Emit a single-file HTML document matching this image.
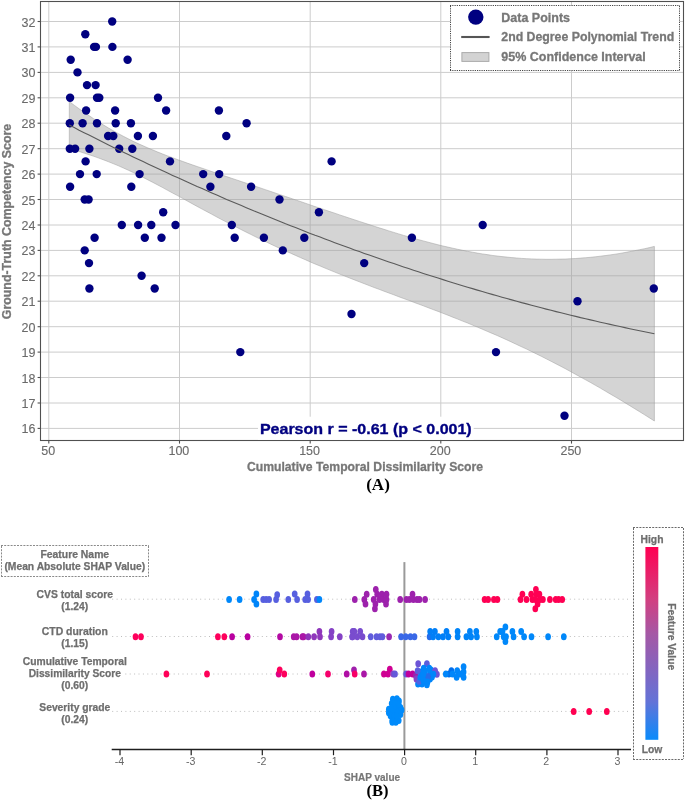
<!DOCTYPE html>
<html><head><meta charset="utf-8"><style>
html,body{margin:0;padding:0;background:#fff;}
body{width:685px;height:801px;overflow:hidden;}
svg{display:block;}
text{font-family:"Liberation Sans",Arial,sans-serif;}
.serif{font-family:"Liberation Serif","Times New Roman",serif;font-weight:bold;fill:#000;}
</style></head><body>
<svg width="685" height="801" viewBox="0 0 685 801">
<defs><linearGradient id="cb" x1="0" y1="0" x2="0" y2="1"><stop offset="0" stop-color="#ff0052"/><stop offset="0.27" stop-color="#d23f80"/><stop offset="0.45" stop-color="#a558a5"/><stop offset="0.65" stop-color="#8066c2"/><stop offset="0.8" stop-color="#6473d7"/><stop offset="1" stop-color="#0a8bfb"/></linearGradient></defs>
<g stroke="#cccccc" stroke-width="1"><line x1="48.8" y1="1.5" x2="48.8" y2="440.5"/><line x1="179.5" y1="1.5" x2="179.5" y2="440.5"/><line x1="310.2" y1="1.5" x2="310.2" y2="440.5"/><line x1="440.8" y1="1.5" x2="440.8" y2="440.5"/><line x1="571.5" y1="1.5" x2="571.5" y2="440.5"/><line x1="40.5" y1="428.4" x2="683.5" y2="428.4"/><line x1="40.5" y1="403.0" x2="683.5" y2="403.0"/><line x1="40.5" y1="377.5" x2="683.5" y2="377.5"/><line x1="40.5" y1="352.1" x2="683.5" y2="352.1"/><line x1="40.5" y1="326.7" x2="683.5" y2="326.7"/><line x1="40.5" y1="301.2" x2="683.5" y2="301.2"/><line x1="40.5" y1="275.8" x2="683.5" y2="275.8"/><line x1="40.5" y1="250.4" x2="683.5" y2="250.4"/><line x1="40.5" y1="225.0" x2="683.5" y2="225.0"/><line x1="40.5" y1="199.5" x2="683.5" y2="199.5"/><line x1="40.5" y1="174.1" x2="683.5" y2="174.1"/><line x1="40.5" y1="148.7" x2="683.5" y2="148.7"/><line x1="40.5" y1="123.2" x2="683.5" y2="123.2"/><line x1="40.5" y1="97.8" x2="683.5" y2="97.8"/><line x1="40.5" y1="72.4" x2="683.5" y2="72.4"/><line x1="40.5" y1="46.9" x2="683.5" y2="46.9"/><line x1="40.5" y1="21.5" x2="683.5" y2="21.5"/></g>
<path d="M69.3,101.6 L74.2,105.2 L79.1,108.8 L84.1,112.2 L89.0,115.6 L93.9,118.9 L98.8,122.1 L103.7,125.1 L108.6,128.1 L113.6,130.9 L118.5,133.7 L123.4,136.3 L128.3,138.8 L133.2,141.3 L138.1,143.6 L143.1,145.8 L148.0,148.0 L152.9,150.0 L157.8,152.1 L162.7,154.0 L167.6,155.9 L172.6,157.7 L177.5,159.6 L182.4,161.3 L187.3,163.1 L192.2,164.8 L197.1,166.5 L202.1,168.2 L207.0,169.9 L211.9,171.6 L216.8,173.3 L221.7,174.9 L226.6,176.6 L231.6,178.3 L236.5,179.9 L241.4,181.6 L246.3,183.2 L251.2,184.9 L256.1,186.5 L261.1,188.2 L266.0,189.9 L270.9,191.5 L275.8,193.2 L280.7,194.9 L285.6,196.5 L290.6,198.2 L295.5,199.9 L300.4,201.5 L305.3,203.2 L310.2,204.9 L315.1,206.6 L320.1,208.2 L325.0,209.9 L329.9,211.6 L334.8,213.2 L339.7,214.9 L344.6,216.5 L349.6,218.2 L354.5,219.8 L359.4,221.4 L364.3,223.0 L369.2,224.6 L374.1,226.2 L379.1,227.8 L384.0,229.3 L388.9,230.9 L393.8,232.4 L398.7,233.9 L403.6,235.4 L408.6,236.8 L413.5,238.2 L418.4,239.6 L423.3,240.9 L428.2,242.2 L433.1,243.5 L438.1,244.8 L443.0,246.0 L447.9,247.1 L452.8,248.2 L457.7,249.3 L462.6,250.3 L467.6,251.3 L472.5,252.2 L477.4,253.1 L482.3,253.9 L487.2,254.6 L492.1,255.4 L497.1,256.0 L502.0,256.6 L506.9,257.1 L511.8,257.6 L516.7,258.0 L521.6,258.4 L526.6,258.7 L531.5,258.9 L536.4,259.1 L541.3,259.2 L546.2,259.3 L551.1,259.3 L556.1,259.2 L561.0,259.1 L565.9,259.0 L570.8,258.7 L575.7,258.5 L580.6,258.1 L585.6,257.7 L590.5,257.3 L595.4,256.8 L600.3,256.2 L605.2,255.6 L610.1,254.9 L615.1,254.2 L620.0,253.4 L624.9,252.5 L629.8,251.6 L634.7,250.7 L639.6,249.7 L644.6,248.7 L649.5,247.6 L654.4,246.4 L654.4,421.0 L649.5,417.9 L644.6,414.8 L639.6,411.7 L634.7,408.7 L629.8,405.7 L624.9,402.7 L620.0,399.7 L615.1,396.8 L610.1,393.9 L605.2,391.0 L600.3,388.1 L595.4,385.3 L590.5,382.5 L585.6,379.8 L580.6,377.1 L575.7,374.4 L570.8,371.7 L565.9,369.0 L561.0,366.4 L556.1,363.9 L551.1,361.3 L546.2,358.8 L541.3,356.3 L536.4,353.9 L531.5,351.5 L526.6,349.1 L521.6,346.8 L516.7,344.5 L511.8,342.2 L506.9,339.9 L502.0,337.7 L497.1,335.5 L492.1,333.4 L487.2,331.3 L482.3,329.2 L477.4,327.1 L472.5,325.1 L467.6,323.0 L462.6,321.1 L457.7,319.1 L452.8,317.2 L447.9,315.2 L443.0,313.3 L438.1,311.4 L433.1,309.6 L428.2,307.7 L423.3,305.8 L418.4,304.0 L413.5,302.2 L408.6,300.3 L403.6,298.5 L398.7,296.7 L393.8,294.8 L388.9,293.0 L384.0,291.2 L379.1,289.3 L374.1,287.5 L369.2,285.6 L364.3,283.7 L359.4,281.8 L354.5,279.9 L349.6,278.0 L344.6,276.0 L339.7,274.1 L334.8,272.1 L329.9,270.1 L325.0,268.1 L320.1,266.0 L315.1,264.0 L310.2,261.9 L305.3,259.7 L300.4,257.6 L295.5,255.4 L290.6,253.2 L285.6,251.0 L280.7,248.8 L275.8,246.5 L270.9,244.2 L266.0,241.8 L261.1,239.5 L256.1,237.1 L251.2,234.6 L246.3,232.2 L241.4,229.7 L236.5,227.2 L231.6,224.7 L226.6,222.1 L221.7,219.6 L216.8,217.0 L211.9,214.3 L207.0,211.7 L202.1,209.1 L197.1,206.4 L192.2,203.7 L187.3,201.0 L182.4,198.3 L177.5,195.6 L172.6,193.0 L167.6,190.3 L162.7,187.6 L157.8,185.0 L152.9,182.4 L148.0,179.9 L143.1,177.4 L138.1,174.9 L133.2,172.5 L128.3,170.2 L123.4,168.0 L118.5,165.8 L113.6,163.8 L108.6,161.8 L103.7,159.9 L98.8,158.1 L93.9,156.3 L89.0,154.7 L84.1,153.1 L79.1,151.5 L74.2,150.1 L69.3,148.7 Z" fill="#a0a0a0" fill-opacity="0.45" stroke="#999" stroke-opacity="0.8" stroke-width="0.6"/>
<g fill="#000080"><circle cx="112.2" cy="21.5" r="4.2"/><circle cx="85.3" cy="34.2" r="4.2"/><circle cx="94.1" cy="46.9" r="4.2"/><circle cx="95.9" cy="46.9" r="4.2"/><circle cx="112.4" cy="46.9" r="4.2"/><circle cx="70.7" cy="59.7" r="4.2"/><circle cx="77.5" cy="72.4" r="4.2"/><circle cx="87.0" cy="85.1" r="4.2"/><circle cx="95.6" cy="85.1" r="4.2"/><circle cx="127.6" cy="59.7" r="4.2"/><circle cx="70.1" cy="97.8" r="4.2"/><circle cx="97.0" cy="97.8" r="4.2"/><circle cx="99.3" cy="97.8" r="4.2"/><circle cx="86.1" cy="110.5" r="4.2"/><circle cx="115.1" cy="110.5" r="4.2"/><circle cx="69.8" cy="123.2" r="4.2"/><circle cx="82.6" cy="123.2" r="4.2"/><circle cx="97.0" cy="123.2" r="4.2"/><circle cx="115.7" cy="123.2" r="4.2"/><circle cx="108.1" cy="136.0" r="4.2"/><circle cx="113.3" cy="136.0" r="4.2"/><circle cx="69.8" cy="148.7" r="4.2"/><circle cx="75.1" cy="148.7" r="4.2"/><circle cx="89.4" cy="148.7" r="4.2"/><circle cx="119.2" cy="148.7" r="4.2"/><circle cx="85.6" cy="161.4" r="4.2"/><circle cx="80.0" cy="174.1" r="4.2"/><circle cx="96.7" cy="174.1" r="4.2"/><circle cx="70.1" cy="186.8" r="4.2"/><circle cx="84.7" cy="199.5" r="4.2"/><circle cx="88.6" cy="199.5" r="4.2"/><circle cx="121.8" cy="225.0" r="4.2"/><circle cx="94.6" cy="237.7" r="4.2"/><circle cx="84.7" cy="250.4" r="4.2"/><circle cx="89.0" cy="263.1" r="4.2"/><circle cx="89.4" cy="288.5" r="4.2"/><circle cx="158.0" cy="97.8" r="4.2"/><circle cx="166.1" cy="110.5" r="4.2"/><circle cx="130.9" cy="123.2" r="4.2"/><circle cx="137.9" cy="136.0" r="4.2"/><circle cx="152.9" cy="136.0" r="4.2"/><circle cx="132.3" cy="148.7" r="4.2"/><circle cx="170.0" cy="161.4" r="4.2"/><circle cx="139.6" cy="174.1" r="4.2"/><circle cx="131.3" cy="186.8" r="4.2"/><circle cx="163.2" cy="212.2" r="4.2"/><circle cx="138.1" cy="225.0" r="4.2"/><circle cx="151.3" cy="225.0" r="4.2"/><circle cx="175.5" cy="225.0" r="4.2"/><circle cx="144.8" cy="237.7" r="4.2"/><circle cx="161.5" cy="237.7" r="4.2"/><circle cx="141.6" cy="275.8" r="4.2"/><circle cx="154.7" cy="288.5" r="4.2"/><circle cx="218.9" cy="110.5" r="4.2"/><circle cx="246.6" cy="123.2" r="4.2"/><circle cx="226.3" cy="136.0" r="4.2"/><circle cx="203.2" cy="174.1" r="4.2"/><circle cx="219.2" cy="174.1" r="4.2"/><circle cx="210.4" cy="186.8" r="4.2"/><circle cx="251.1" cy="186.8" r="4.2"/><circle cx="231.8" cy="225.0" r="4.2"/><circle cx="234.7" cy="237.7" r="4.2"/><circle cx="263.9" cy="237.7" r="4.2"/><circle cx="240.3" cy="352.1" r="4.2"/><circle cx="331.6" cy="161.4" r="4.2"/><circle cx="279.5" cy="199.5" r="4.2"/><circle cx="318.9" cy="212.2" r="4.2"/><circle cx="304.3" cy="237.7" r="4.2"/><circle cx="282.8" cy="250.4" r="4.2"/><circle cx="364.2" cy="263.1" r="4.2"/><circle cx="351.5" cy="314.0" r="4.2"/><circle cx="411.9" cy="237.7" r="4.2"/><circle cx="482.7" cy="225.0" r="4.2"/><circle cx="577.5" cy="301.2" r="4.2"/><circle cx="496.0" cy="352.1" r="4.2"/><circle cx="653.8" cy="288.5" r="4.2"/><circle cx="564.5" cy="415.7" r="4.2"/></g>
<path d="M69.3,125.1 L74.2,127.6 L79.1,130.2 L84.1,132.7 L89.0,135.1 L93.9,137.6 L98.8,140.1 L103.7,142.5 L108.6,144.9 L113.6,147.4 L118.5,149.8 L123.4,152.2 L128.3,154.5 L133.2,156.9 L138.1,159.2 L143.1,161.6 L148.0,163.9 L152.9,166.2 L157.8,168.5 L162.7,170.8 L167.6,173.1 L172.6,175.4 L177.5,177.6 L182.4,179.8 L187.3,182.1 L192.2,184.3 L197.1,186.5 L202.1,188.6 L207.0,190.8 L211.9,193.0 L216.8,195.1 L221.7,197.2 L226.6,199.4 L231.6,201.5 L236.5,203.6 L241.4,205.6 L246.3,207.7 L251.2,209.8 L256.1,211.8 L261.1,213.8 L266.0,215.8 L270.9,217.8 L275.8,219.8 L280.7,221.8 L285.6,223.8 L290.6,225.7 L295.5,227.6 L300.4,229.6 L305.3,231.5 L310.2,233.4 L315.1,235.3 L320.1,237.1 L325.0,239.0 L329.9,240.8 L334.8,242.7 L339.7,244.5 L344.6,246.3 L349.6,248.1 L354.5,249.9 L359.4,251.6 L364.3,253.4 L369.2,255.1 L374.1,256.8 L379.1,258.6 L384.0,260.3 L388.9,261.9 L393.8,263.6 L398.7,265.3 L403.6,266.9 L408.6,268.6 L413.5,270.2 L418.4,271.8 L423.3,273.4 L428.2,275.0 L433.1,276.5 L438.1,278.1 L443.0,279.6 L447.9,281.2 L452.8,282.7 L457.7,284.2 L462.6,285.7 L467.6,287.2 L472.5,288.6 L477.4,290.1 L482.3,291.5 L487.2,293.0 L492.1,294.4 L497.1,295.8 L502.0,297.2 L506.9,298.5 L511.8,299.9 L516.7,301.2 L521.6,302.6 L526.6,303.9 L531.5,305.2 L536.4,306.5 L541.3,307.8 L546.2,309.1 L551.1,310.3 L556.1,311.6 L561.0,312.8 L565.9,314.0 L570.8,315.2 L575.7,316.4 L580.6,317.6 L585.6,318.7 L590.5,319.9 L595.4,321.0 L600.3,322.2 L605.2,323.3 L610.1,324.4 L615.1,325.5 L620.0,326.5 L624.9,327.6 L629.8,328.7 L634.7,329.7 L639.6,330.7 L644.6,331.7 L649.5,332.7 L654.4,333.7" fill="none" stroke="#5a5a5a" stroke-width="1.1"/>
<rect x="40.5" y="1.5" width="643.0" height="439.0" fill="none" stroke="#505050" stroke-width="1.1"/>
<g stroke="#505050" stroke-width="1.1"><line x1="37.6" y1="428.4" x2="40.5" y2="428.4"/><line x1="37.6" y1="403.0" x2="40.5" y2="403.0"/><line x1="37.6" y1="377.5" x2="40.5" y2="377.5"/><line x1="37.6" y1="352.1" x2="40.5" y2="352.1"/><line x1="37.6" y1="326.7" x2="40.5" y2="326.7"/><line x1="37.6" y1="301.2" x2="40.5" y2="301.2"/><line x1="37.6" y1="275.8" x2="40.5" y2="275.8"/><line x1="37.6" y1="250.4" x2="40.5" y2="250.4"/><line x1="37.6" y1="225.0" x2="40.5" y2="225.0"/><line x1="37.6" y1="199.5" x2="40.5" y2="199.5"/><line x1="37.6" y1="174.1" x2="40.5" y2="174.1"/><line x1="37.6" y1="148.7" x2="40.5" y2="148.7"/><line x1="37.6" y1="123.2" x2="40.5" y2="123.2"/><line x1="37.6" y1="97.8" x2="40.5" y2="97.8"/><line x1="37.6" y1="72.4" x2="40.5" y2="72.4"/><line x1="37.6" y1="46.9" x2="40.5" y2="46.9"/><line x1="37.6" y1="21.5" x2="40.5" y2="21.5"/><line x1="48.8" y1="440.5" x2="48.8" y2="443.6"/><line x1="179.5" y1="440.5" x2="179.5" y2="443.6"/><line x1="310.2" y1="440.5" x2="310.2" y2="443.6"/><line x1="440.8" y1="440.5" x2="440.8" y2="443.6"/><line x1="571.5" y1="440.5" x2="571.5" y2="443.6"/></g>
<g font-size="12.5" fill="#6a6a6a" stroke="#6a6a6a" stroke-width="0.12"><text x="35.4" y="433.4" text-anchor="end">16</text><text x="35.4" y="408.0" text-anchor="end">17</text><text x="35.4" y="382.5" text-anchor="end">18</text><text x="35.4" y="357.1" text-anchor="end">19</text><text x="35.4" y="331.7" text-anchor="end">20</text><text x="35.4" y="306.2" text-anchor="end">21</text><text x="35.4" y="280.8" text-anchor="end">22</text><text x="35.4" y="255.4" text-anchor="end">23</text><text x="35.4" y="230.0" text-anchor="end">24</text><text x="35.4" y="204.5" text-anchor="end">25</text><text x="35.4" y="179.1" text-anchor="end">26</text><text x="35.4" y="153.7" text-anchor="end">27</text><text x="35.4" y="128.2" text-anchor="end">28</text><text x="35.4" y="102.8" text-anchor="end">29</text><text x="35.4" y="77.4" text-anchor="end">30</text><text x="35.4" y="51.9" text-anchor="end">31</text><text x="35.4" y="26.5" text-anchor="end">32</text><text x="48.2" y="455.2" text-anchor="middle">50</text><text x="178.9" y="455.2" text-anchor="middle">100</text><text x="309.6" y="455.2" text-anchor="middle">150</text><text x="440.2" y="455.2" text-anchor="middle">200</text><text x="570.9" y="455.2" text-anchor="middle">250</text></g>
<text x="365" y="470.8" text-anchor="middle" font-size="12.2" font-weight="bold" fill="#777" stroke="#777" stroke-width="0.3">Cumulative Temporal Dissimilarity Score</text>
<text transform="translate(11.3,221.5) rotate(-90)" text-anchor="middle" font-size="12.4" font-weight="bold" fill="#777" stroke="#777" stroke-width="0.3">Ground-Truth Competency Score</text>
<text class="serif" x="378" y="490.4" text-anchor="middle" font-size="17">(A)</text>
<rect x="258" y="416.7" width="215.7" height="23" fill="#fff"/>
<text x="365.8" y="433.7" text-anchor="middle" font-size="15.2" font-weight="bold" fill="#000080" stroke="#000080" stroke-width="0.35" textLength="211.8" lengthAdjust="spacingAndGlyphs">Pearson r = -0.61 (p &lt; 0.001)</text>
<rect x="450.5" y="5.5" width="229.0" height="65.0" fill="#fff"/><g stroke="#444" stroke-width="1" stroke-dasharray="1.2 1.05" fill="none"><line x1="450.0" y1="5.5" x2="680.0" y2="5.5"/><line x1="450.0" y1="70.5" x2="680.0" y2="70.5"/><line x1="450.5" y1="6.0" x2="450.5" y2="70.0"/><line x1="679.5" y1="6.0" x2="679.5" y2="70.0"/></g>
<circle cx="475.8" cy="17.1" r="7.7" fill="#000080"/>
<line x1="461.2" y1="37" x2="489.6" y2="37" stroke="#555" stroke-width="2.1"/>
<rect x="461.9" y="52.6" width="27" height="8.8" fill="#d3d3d3" stroke="#aaa" stroke-width="1"/>
<g font-size="12.5" font-weight="bold" fill="#777" stroke="#777" stroke-width="0.3"><text x="501.3" y="21.6">Data Points</text><text x="501.3" y="40.9" font-size="12.3">2nd Degree Polynomial Trend</text><text x="501.3" y="61">95% Confidence Interval</text></g>
<g stroke="#bdbdbd" stroke-width="1" stroke-dasharray="1 3.4"><line x1="112.2" y1="599.2" x2="630.5" y2="599.2"/><line x1="112.2" y1="636.5" x2="630.5" y2="636.5"/><line x1="125.3" y1="674.0" x2="630.5" y2="674.0"/><line x1="112.2" y1="711.4" x2="630.5" y2="711.4"/></g>
<line x1="404.4" y1="562.1" x2="404.4" y2="749" stroke="#9a9a9a" stroke-width="2"/>
<g><ellipse cx="229.1" cy="599.4" rx="2.85" ry="3.5" fill="#0088fa"/><ellipse cx="239.6" cy="599.4" rx="2.85" ry="3.5" fill="#0088fa"/><ellipse cx="256.4" cy="594.1" rx="2.85" ry="3.5" fill="#0085f9"/><ellipse cx="254.1" cy="599.4" rx="2.85" ry="3.5" fill="#0085f9"/><ellipse cx="256.4" cy="604.1" rx="2.85" ry="3.5" fill="#0085f9"/><ellipse cx="263.2" cy="599.4" rx="2.85" ry="3.5" fill="#575fdf"/><ellipse cx="266.1" cy="599.4" rx="2.85" ry="3.5" fill="#575fdf"/><ellipse cx="269.1" cy="599.4" rx="2.85" ry="3.5" fill="#575fdf"/><ellipse cx="277.2" cy="594.7" rx="2.85" ry="3.5" fill="#575fdf"/><ellipse cx="276.1" cy="599.4" rx="2.85" ry="3.5" fill="#575fdf"/><ellipse cx="288.3" cy="599.4" rx="2.85" ry="3.5" fill="#575fdf"/><ellipse cx="294.7" cy="594.1" rx="2.85" ry="3.5" fill="#575fdf"/><ellipse cx="297.1" cy="599.4" rx="2.85" ry="3.5" fill="#575fdf"/><ellipse cx="307.5" cy="594.1" rx="2.85" ry="3.5" fill="#575fdf"/><ellipse cx="305.2" cy="599.4" rx="2.85" ry="3.5" fill="#575fdf"/><ellipse cx="308.1" cy="599.4" rx="2.85" ry="3.5" fill="#575fdf"/><ellipse cx="316.9" cy="599.4" rx="2.85" ry="3.5" fill="#575fdf"/><ellipse cx="319.4" cy="599.4" rx="2.85" ry="3.5" fill="#0086fa"/><ellipse cx="354.8" cy="599.4" rx="2.85" ry="3.5" fill="#9d22ac"/><ellipse cx="366.7" cy="594.2" rx="2.85" ry="3.5" fill="#9d22ac"/><ellipse cx="364.3" cy="599.4" rx="2.85" ry="3.5" fill="#9d22ac"/><ellipse cx="365.5" cy="604.1" rx="2.85" ry="3.5" fill="#9d22ac"/><ellipse cx="375.8" cy="589.5" rx="2.85" ry="3.5" fill="#9d22ac"/><ellipse cx="373.7" cy="599.4" rx="2.85" ry="3.5" fill="#9d22ac"/><ellipse cx="375.4" cy="604.1" rx="2.85" ry="3.5" fill="#9d22ac"/><ellipse cx="374.9" cy="608.8" rx="2.85" ry="3.5" fill="#9d22ac"/><ellipse cx="377.2" cy="594.2" rx="2.85" ry="3.5" fill="#9d22ac"/><ellipse cx="379.5" cy="599.4" rx="2.85" ry="3.5" fill="#9d22ac"/><ellipse cx="381.9" cy="594.2" rx="2.85" ry="3.5" fill="#9d22ac"/><ellipse cx="383.6" cy="599.4" rx="2.85" ry="3.5" fill="#9d22ac"/><ellipse cx="386.5" cy="594.2" rx="2.85" ry="3.5" fill="#9d22ac"/><ellipse cx="386.0" cy="604.1" rx="2.85" ry="3.5" fill="#9d22ac"/><ellipse cx="386.5" cy="599.4" rx="2.85" ry="3.5" fill="#9d22ac"/><ellipse cx="400.2" cy="599.4" rx="2.85" ry="3.5" fill="#9d22ac"/><ellipse cx="406.4" cy="599.4" rx="2.85" ry="3.5" fill="#9d22ac"/><ellipse cx="409.5" cy="599.4" rx="2.85" ry="3.5" fill="#9d22ac"/><ellipse cx="412.5" cy="594.3" rx="2.85" ry="3.5" fill="#9d22ac"/><ellipse cx="413.4" cy="599.4" rx="2.85" ry="3.5" fill="#9d22ac"/><ellipse cx="417.0" cy="599.4" rx="2.85" ry="3.5" fill="#9d22ac"/><ellipse cx="419.5" cy="599.4" rx="2.85" ry="3.5" fill="#9d22ac"/><ellipse cx="425.1" cy="599.4" rx="2.85" ry="3.5" fill="#9d22ac"/><ellipse cx="484.6" cy="599.4" rx="2.85" ry="3.5" fill="#ff0053"/><ellipse cx="488.1" cy="599.4" rx="2.85" ry="3.5" fill="#ff0053"/><ellipse cx="493.9" cy="599.4" rx="2.85" ry="3.5" fill="#ff0053"/><ellipse cx="497.4" cy="599.4" rx="2.85" ry="3.5" fill="#ff0053"/><ellipse cx="522.4" cy="594.2" rx="2.85" ry="3.5" fill="#ff0053"/><ellipse cx="520.5" cy="599.4" rx="2.85" ry="3.5" fill="#ff0053"/><ellipse cx="526.5" cy="599.4" rx="2.85" ry="3.5" fill="#ff0053"/><ellipse cx="531.2" cy="594.2" rx="2.85" ry="3.5" fill="#ff0053"/><ellipse cx="532.4" cy="599.4" rx="2.85" ry="3.5" fill="#ff0053"/><ellipse cx="535.9" cy="589.5" rx="2.85" ry="3.5" fill="#ff0053"/><ellipse cx="536.5" cy="594.2" rx="2.85" ry="3.5" fill="#ff0053"/><ellipse cx="535.3" cy="599.4" rx="2.85" ry="3.5" fill="#ff0053"/><ellipse cx="537.6" cy="604.1" rx="2.85" ry="3.5" fill="#ff0053"/><ellipse cx="535.3" cy="608.8" rx="2.85" ry="3.5" fill="#ff0053"/><ellipse cx="539.4" cy="594.2" rx="2.85" ry="3.5" fill="#ff0053"/><ellipse cx="540.0" cy="599.4" rx="2.85" ry="3.5" fill="#ff0053"/><ellipse cx="542.9" cy="599.4" rx="2.85" ry="3.5" fill="#ff0053"/><ellipse cx="549.9" cy="599.4" rx="2.85" ry="3.5" fill="#ff0053"/><ellipse cx="555.7" cy="599.4" rx="2.85" ry="3.5" fill="#ff0053"/><ellipse cx="558.6" cy="599.4" rx="2.85" ry="3.5" fill="#ff0053"/><ellipse cx="562.2" cy="599.4" rx="2.85" ry="3.5" fill="#ff0053"/><ellipse cx="135.5" cy="636.7" rx="2.85" ry="3.5" fill="#fe005c"/><ellipse cx="141.0" cy="636.7" rx="2.85" ry="3.5" fill="#fe005c"/><ellipse cx="217.9" cy="636.7" rx="2.85" ry="3.5" fill="#fe005c"/><ellipse cx="224.3" cy="636.7" rx="2.85" ry="3.5" fill="#fe005c"/><ellipse cx="232.1" cy="636.7" rx="2.85" ry="3.5" fill="#b900a0"/><ellipse cx="247.6" cy="636.7" rx="2.85" ry="3.5" fill="#b900a0"/><ellipse cx="280.0" cy="636.7" rx="2.85" ry="3.5" fill="#b30aa3"/><ellipse cx="293.7" cy="636.7" rx="2.85" ry="3.5" fill="#aa17a7"/><ellipse cx="296.6" cy="636.7" rx="2.85" ry="3.5" fill="#aa17a7"/><ellipse cx="302.4" cy="636.7" rx="2.85" ry="3.5" fill="#aa17a7"/><ellipse cx="303.6" cy="636.7" rx="2.85" ry="3.5" fill="#aa17a7"/><ellipse cx="308.3" cy="636.7" rx="2.85" ry="3.5" fill="#8f36bb"/><ellipse cx="314.1" cy="636.7" rx="2.85" ry="3.5" fill="#8f36bb"/><ellipse cx="319.4" cy="631.6" rx="2.85" ry="3.5" fill="#8f36bb"/><ellipse cx="320.0" cy="636.7" rx="2.85" ry="3.5" fill="#8f36bb"/><ellipse cx="331.6" cy="631.6" rx="2.85" ry="3.5" fill="#8542c5"/><ellipse cx="331.1" cy="636.7" rx="2.85" ry="3.5" fill="#8542c5"/><ellipse cx="339.8" cy="636.7" rx="2.85" ry="3.5" fill="#8542c5"/><ellipse cx="352.7" cy="631.6" rx="2.85" ry="3.5" fill="#794cce"/><ellipse cx="352.1" cy="636.7" rx="2.85" ry="3.5" fill="#794cce"/><ellipse cx="354.3" cy="631.6" rx="2.85" ry="3.5" fill="#794cce"/><ellipse cx="360.2" cy="631.6" rx="2.85" ry="3.5" fill="#794cce"/><ellipse cx="352.6" cy="636.7" rx="2.85" ry="3.5" fill="#794cce"/><ellipse cx="357.3" cy="636.7" rx="2.85" ry="3.5" fill="#794cce"/><ellipse cx="362.5" cy="636.7" rx="2.85" ry="3.5" fill="#794cce"/><ellipse cx="370.7" cy="636.7" rx="2.85" ry="3.5" fill="#605bdc"/><ellipse cx="376.5" cy="636.7" rx="2.85" ry="3.5" fill="#605bdc"/><ellipse cx="380.0" cy="636.7" rx="2.85" ry="3.5" fill="#605bdc"/><ellipse cx="382.4" cy="636.7" rx="2.85" ry="3.5" fill="#605bdc"/><ellipse cx="389.1" cy="636.7" rx="2.85" ry="3.5" fill="#9829b1"/><ellipse cx="401.1" cy="636.7" rx="2.85" ry="3.5" fill="#3968e7"/><ellipse cx="405.7" cy="636.7" rx="2.85" ry="3.5" fill="#3968e7"/><ellipse cx="410.4" cy="636.7" rx="2.85" ry="3.5" fill="#3968e7"/><ellipse cx="414.5" cy="636.7" rx="2.85" ry="3.5" fill="#3968e7"/><ellipse cx="429.6" cy="636.7" rx="2.85" ry="3.5" fill="#266cea"/><ellipse cx="430.2" cy="631.6" rx="2.85" ry="3.5" fill="#007ff7"/><ellipse cx="434.9" cy="631.6" rx="2.85" ry="3.5" fill="#007ff7"/><ellipse cx="433.1" cy="636.7" rx="2.85" ry="3.5" fill="#007ff7"/><ellipse cx="438.4" cy="636.7" rx="2.85" ry="3.5" fill="#007ff7"/><ellipse cx="443.0" cy="636.7" rx="2.85" ry="3.5" fill="#007ff7"/><ellipse cx="448.3" cy="636.7" rx="2.85" ry="3.5" fill="#007ff7"/><ellipse cx="446.5" cy="631.6" rx="2.85" ry="3.5" fill="#007ff7"/><ellipse cx="457.6" cy="631.6" rx="2.85" ry="3.5" fill="#0084f8"/><ellipse cx="457.6" cy="636.7" rx="2.85" ry="3.5" fill="#0084f8"/><ellipse cx="466.4" cy="636.7" rx="2.85" ry="3.5" fill="#0084f8"/><ellipse cx="469.9" cy="631.6" rx="2.85" ry="3.5" fill="#0084f8"/><ellipse cx="471.1" cy="636.7" rx="2.85" ry="3.5" fill="#0084f8"/><ellipse cx="476.3" cy="631.6" rx="2.85" ry="3.5" fill="#0084f8"/><ellipse cx="476.9" cy="636.7" rx="2.85" ry="3.5" fill="#0084f8"/><ellipse cx="496.7" cy="636.7" rx="2.85" ry="3.5" fill="#0088fa"/><ellipse cx="500.2" cy="631.6" rx="2.85" ry="3.5" fill="#0088fa"/><ellipse cx="505.4" cy="626.9" rx="2.85" ry="3.5" fill="#0088fa"/><ellipse cx="503.7" cy="636.7" rx="2.85" ry="3.5" fill="#0088fa"/><ellipse cx="506.0" cy="636.7" rx="2.85" ry="3.5" fill="#0088fa"/><ellipse cx="505.4" cy="641.5" rx="2.85" ry="3.5" fill="#0088fa"/><ellipse cx="502.5" cy="631.6" rx="2.85" ry="3.5" fill="#0088fa"/><ellipse cx="512.4" cy="631.6" rx="2.85" ry="3.5" fill="#0088fa"/><ellipse cx="513.6" cy="636.7" rx="2.85" ry="3.5" fill="#0088fa"/><ellipse cx="521.2" cy="631.6" rx="2.85" ry="3.5" fill="#0088fa"/><ellipse cx="524.1" cy="636.7" rx="2.85" ry="3.5" fill="#0088fa"/><ellipse cx="531.5" cy="636.7" rx="2.85" ry="3.5" fill="#0088fa"/><ellipse cx="548.1" cy="636.7" rx="2.85" ry="3.5" fill="#0088fa"/><ellipse cx="563.8" cy="636.7" rx="2.85" ry="3.5" fill="#0088fa"/><ellipse cx="166.4" cy="674.0" rx="2.85" ry="3.5" fill="#ff0058"/><ellipse cx="207.0" cy="674.0" rx="2.85" ry="3.5" fill="#ff0058"/><ellipse cx="278.7" cy="674.0" rx="2.85" ry="3.5" fill="#df0086"/><ellipse cx="279.7" cy="670.0" rx="2.85" ry="3.5" fill="#fe005c"/><ellipse cx="284.3" cy="674.0" rx="2.85" ry="3.5" fill="#fe005c"/><ellipse cx="312.3" cy="674.0" rx="2.85" ry="3.5" fill="#bf009d"/><ellipse cx="328.0" cy="674.0" rx="2.85" ry="3.5" fill="#f6006c"/><ellipse cx="346.7" cy="674.0" rx="2.85" ry="3.5" fill="#b00fa5"/><ellipse cx="354.0" cy="670.0" rx="2.85" ry="3.5" fill="#a01fab"/><ellipse cx="354.7" cy="674.0" rx="2.85" ry="3.5" fill="#f80067"/><ellipse cx="364.0" cy="674.0" rx="2.85" ry="3.5" fill="#aa17a7"/><ellipse cx="383.9" cy="674.0" rx="2.85" ry="3.5" fill="#cf0093"/><ellipse cx="389.8" cy="669.3" rx="2.85" ry="3.5" fill="#cf0093"/><ellipse cx="388.0" cy="674.0" rx="2.85" ry="3.5" fill="#cf0093"/><ellipse cx="393.3" cy="674.0" rx="2.85" ry="3.5" fill="#7f47c9"/><ellipse cx="395.0" cy="674.0" rx="2.85" ry="3.5" fill="#6459da"/><ellipse cx="406.1" cy="674.0" rx="2.85" ry="3.5" fill="#6459da"/><ellipse cx="408.5" cy="674.0" rx="2.85" ry="3.5" fill="#bf009d"/><ellipse cx="412.6" cy="674.0" rx="2.85" ry="3.5" fill="#bf009d"/><ellipse cx="421.0" cy="672.0" rx="2.85" ry="3.5" fill="#0086fa"/><ellipse cx="425.0" cy="671.0" rx="2.85" ry="3.5" fill="#0086fa"/><ellipse cx="430.0" cy="672.0" rx="2.85" ry="3.5" fill="#0086fa"/><ellipse cx="421.0" cy="676.0" rx="2.85" ry="3.5" fill="#0086fa"/><ellipse cx="425.0" cy="678.0" rx="2.85" ry="3.5" fill="#0086fa"/><ellipse cx="430.0" cy="679.0" rx="2.85" ry="3.5" fill="#0086fa"/><ellipse cx="418.0" cy="684.0" rx="2.85" ry="3.5" fill="#0086fa"/><ellipse cx="422.0" cy="684.0" rx="2.85" ry="3.5" fill="#0086fa"/><ellipse cx="431.0" cy="670.0" rx="2.85" ry="3.5" fill="#0086fa"/><ellipse cx="432.0" cy="677.0" rx="2.85" ry="3.5" fill="#0086fa"/><ellipse cx="415.8" cy="675.4" rx="2.85" ry="3.5" fill="#9d22ac"/><ellipse cx="416.4" cy="679.0" rx="2.85" ry="3.5" fill="#8542c5"/><ellipse cx="418.2" cy="663.8" rx="2.85" ry="3.5" fill="#6c54d6"/><ellipse cx="435.1" cy="670.8" rx="2.85" ry="3.5" fill="#6c54d6"/><ellipse cx="436.9" cy="674.3" rx="2.85" ry="3.5" fill="#6c54d6"/><ellipse cx="426.9" cy="663.8" rx="2.85" ry="3.5" fill="#5b5ddd"/><ellipse cx="417.6" cy="670.8" rx="2.85" ry="3.5" fill="#5b5ddd"/><ellipse cx="419.1" cy="681.3" rx="2.85" ry="3.5" fill="#4c63e3"/><ellipse cx="428.1" cy="676.6" rx="2.85" ry="3.5" fill="#266cea"/><ellipse cx="423.7" cy="668.3" rx="2.85" ry="3.5" fill="#0086fa"/><ellipse cx="429.3" cy="668.3" rx="2.85" ry="3.5" fill="#0086fa"/><ellipse cx="433.4" cy="674.3" rx="2.85" ry="3.5" fill="#0086fa"/><ellipse cx="420.3" cy="677.2" rx="2.85" ry="3.5" fill="#0086fa"/><ellipse cx="423.4" cy="674.3" rx="2.85" ry="3.5" fill="#0086fa"/><ellipse cx="423.4" cy="680.7" rx="2.85" ry="3.5" fill="#0086fa"/><ellipse cx="427.5" cy="681.9" rx="2.85" ry="3.5" fill="#0086fa"/><ellipse cx="426.9" cy="684.8" rx="2.85" ry="3.5" fill="#0086fa"/><ellipse cx="449.0" cy="674.0" rx="2.85" ry="3.5" fill="#006fed"/><ellipse cx="451.4" cy="670.8" rx="2.85" ry="3.5" fill="#006fed"/><ellipse cx="445.8" cy="674.0" rx="2.85" ry="3.5" fill="#0086fa"/><ellipse cx="452.5" cy="674.0" rx="2.85" ry="3.5" fill="#0086fa"/><ellipse cx="457.2" cy="670.8" rx="2.85" ry="3.5" fill="#0086fa"/><ellipse cx="456.6" cy="677.2" rx="2.85" ry="3.5" fill="#0086fa"/><ellipse cx="460.1" cy="674.0" rx="2.85" ry="3.5" fill="#0086fa"/><ellipse cx="463.6" cy="666.7" rx="2.85" ry="3.5" fill="#0086fa"/><ellipse cx="463.6" cy="671.9" rx="2.85" ry="3.5" fill="#0086fa"/><ellipse cx="463.6" cy="677.2" rx="2.85" ry="3.5" fill="#0086fa"/><ellipse cx="392.8" cy="699.3" rx="2.85" ry="3.5" fill="#008bfb"/><ellipse cx="396.9" cy="698.8" rx="2.85" ry="3.5" fill="#008bfb"/><ellipse cx="399.0" cy="701.1" rx="2.85" ry="3.5" fill="#008bfb"/><ellipse cx="391.7" cy="703.4" rx="2.85" ry="3.5" fill="#008bfb"/><ellipse cx="395.2" cy="703.4" rx="2.85" ry="3.5" fill="#008bfb"/><ellipse cx="388.8" cy="709.3" rx="2.85" ry="3.5" fill="#008bfb"/><ellipse cx="392.3" cy="707.5" rx="2.85" ry="3.5" fill="#008bfb"/><ellipse cx="396.4" cy="707.5" rx="2.85" ry="3.5" fill="#008bfb"/><ellipse cx="400.4" cy="707.5" rx="2.85" ry="3.5" fill="#008bfb"/><ellipse cx="401.6" cy="709.9" rx="2.85" ry="3.5" fill="#008bfb"/><ellipse cx="388.8" cy="712.8" rx="2.85" ry="3.5" fill="#008bfb"/><ellipse cx="393.4" cy="712.2" rx="2.85" ry="3.5" fill="#008bfb"/><ellipse cx="397.5" cy="712.2" rx="2.85" ry="3.5" fill="#008bfb"/><ellipse cx="400.4" cy="714.5" rx="2.85" ry="3.5" fill="#008bfb"/><ellipse cx="390.5" cy="715.7" rx="2.85" ry="3.5" fill="#008bfb"/><ellipse cx="394.6" cy="716.3" rx="2.85" ry="3.5" fill="#008bfb"/><ellipse cx="392.3" cy="720.4" rx="2.85" ry="3.5" fill="#008bfb"/><ellipse cx="396.4" cy="720.4" rx="2.85" ry="3.5" fill="#008bfb"/><ellipse cx="398.7" cy="720.4" rx="2.85" ry="3.5" fill="#008bfb"/><ellipse cx="392.3" cy="722.3" rx="2.85" ry="3.5" fill="#008bfb"/><ellipse cx="395.8" cy="722.3" rx="2.85" ry="3.5" fill="#008bfb"/><ellipse cx="397.0" cy="716.0" rx="2.85" ry="3.5" fill="#008bfb"/><ellipse cx="398.7" cy="704.3" rx="2.85" ry="3.5" fill="#008bfb"/><ellipse cx="573.7" cy="711.4" rx="2.85" ry="3.5" fill="#ff0051"/><ellipse cx="589.2" cy="711.4" rx="2.85" ry="3.5" fill="#ff0051"/><ellipse cx="606.8" cy="711.4" rx="2.85" ry="3.5" fill="#ff0051"/></g>
<line x1="111.7" y1="749.4" x2="631" y2="749.4" stroke="#1e1e1e" stroke-width="1.5"/>
<g stroke="#1e1e1e" stroke-width="1.2"><line x1="120.0" y1="749" x2="120.0" y2="755.2"/><line x1="191.2" y1="749" x2="191.2" y2="755.2"/><line x1="262.3" y1="749" x2="262.3" y2="755.2"/><line x1="333.5" y1="749" x2="333.5" y2="755.2"/><line x1="404.6" y1="749" x2="404.6" y2="755.2"/><line x1="475.7" y1="749" x2="475.7" y2="755.2"/><line x1="546.9" y1="749" x2="546.9" y2="755.2"/><line x1="618.0" y1="749" x2="618.0" y2="755.2"/></g>
<g font-size="10.6" fill="#666"><text x="119.4" y="764.8" text-anchor="middle">-4</text><text x="190.6" y="764.8" text-anchor="middle">-3</text><text x="261.7" y="764.8" text-anchor="middle">-2</text><text x="332.9" y="764.8" text-anchor="middle">-1</text><text x="404.0" y="764.8" text-anchor="middle">0</text><text x="475.1" y="764.8" text-anchor="middle">1</text><text x="546.3" y="764.8" text-anchor="middle">2</text><text x="617.4" y="764.8" text-anchor="middle">3</text></g>
<text x="372.1" y="781" text-anchor="middle" font-size="10" font-weight="bold" fill="#777" stroke="#777" stroke-width="0.2">SHAP value</text>
<text class="serif" x="377.5" y="795.6" text-anchor="middle" font-size="16.5">(B)</text>
<rect x="1.5" y="545.5" width="147.0" height="31.0" fill="#fff"/><g stroke="#8a8a8a" stroke-width="1" stroke-dasharray="2 1.2" fill="none"><line x1="1.0" y1="545.5" x2="149.0" y2="545.5"/><line x1="1.0" y1="576.5" x2="149.0" y2="576.5"/><line x1="1.5" y1="546.0" x2="1.5" y2="576.0"/><line x1="148.5" y1="546.0" x2="148.5" y2="576.0"/></g>
<g font-weight="bold" fill="#6e6e6e" stroke="#6e6e6e" stroke-width="0.25" text-anchor="middle"><text x="74.8" y="558.0" font-size="10.40">Feature Name</text><text x="74.8" y="569.7" font-size="10.30">(Mean Absolute SHAP Value)</text><text x="74.8" y="597.5" font-size="10.35">CVS total score</text><text x="74.8" y="609.6" font-size="10.30">(1.24)</text><text x="74.8" y="634.6" font-size="10.45">CTD duration</text><text x="74.8" y="647.0" font-size="10.30">(1.15)</text><text x="74.8" y="665.0" font-size="10.30">Cumulative Temporal</text><text x="74.8" y="677.2" font-size="10.25">Dissimilarity Score</text><text x="74.8" y="689.3" font-size="10.30">(0.60)</text><text x="74.8" y="711.0" font-size="10.30">Severity grade</text><text x="74.8" y="723.3" font-size="10.30">(0.24)</text></g>
<g stroke="#6a6a6a" stroke-width="1" stroke-dasharray="2 1.2" fill="none"><line x1="633.0" y1="527.5" x2="684.0" y2="527.5"/><line x1="633.0" y1="759.5" x2="684.0" y2="759.5"/><line x1="633.5" y1="528.0" x2="633.5" y2="759.0"/><line x1="683.5" y1="528.0" x2="683.5" y2="759.0"/></g>
<rect x="645.4" y="547" width="12.9" height="192.8" fill="url(#cb)"/>
<g font-size="10.3" font-weight="bold" fill="#6e6e6e" stroke="#6e6e6e" stroke-width="0.25" text-anchor="middle"><text x="652" y="542.9">High</text><text x="652" y="752.5">Low</text><text transform="translate(668,636.7) rotate(90)">Feature Value</text></g>
</svg>
</body></html>
